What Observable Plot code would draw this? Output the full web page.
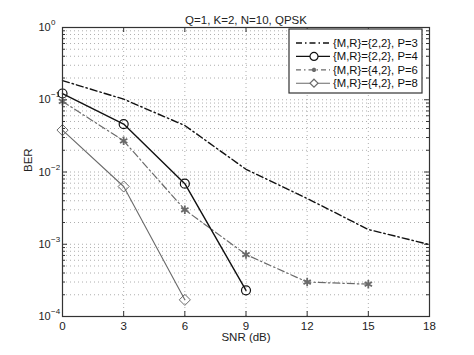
<!DOCTYPE html>
<html>
<head>
<meta charset="utf-8">
<script src="https://cdn.jsdelivr.net/npm/d3@7"></script>
<script src="https://cdn.jsdelivr.net/npm/@observablehq/plot@0.6"></script>
<style>
  html, body { margin: 0; padding: 0; background: #fff; }
  #chart { width: 474px; height: 355px; }
  svg { font-family: "Liberation Sans", Arial, sans-serif; }
</style>
</head>
<body>
<div id="chart"></div>
<script>
// ---- data ----
const title = "Q=1, K=2, N=10, QPSK";
const xLabel = "SNR (dB)";
const yLabel = "BER";
const seriesNames = ["{M,R}={2,2}, P=3", "{M,R}={2,2}, P=4", "{M,R}={4,2}, P=6", "{M,R}={4,2}, P=8"];

const snrP3 = [0, 3, 6, 9, 12, 15, 18];
const berP3 = [0.184, 0.102, 0.044, 0.0109, 0.0043, 0.0016, 0.00099];

const snrP4 = [0, 3, 6, 9];
const berP4 = [0.122, 0.046, 0.0069, 0.00023];

const snrP6 = [0, 3, 6, 9, 12, 15];
const berP6 = [0.095, 0.027, 0.0030, 0.00072, 0.00030, 0.00028];

const snrP8 = [0, 3, 6];
const berP8 = [0.038, 0.0063, 0.00017];

const xTicks = [0, 3, 6, 9, 12, 15, 18];
const yExponents = [0, -1, -2, -3, -4];

// ---- derived ----
const toRows = (xs, ys) => xs.map((x, i) => ({x, y: ys[i]}));
const p3 = toRows(snrP3, berP3);
const p4 = toRows(snrP4, berP4);
const p6 = toRows(snrP6, berP6);
const p8 = toRows(snrP8, berP8);

const yDecades = yExponents.map(e => Math.pow(10, e));
const yMinor = [];
for (const e of yExponents) {
  if (e === 0) continue;
  for (let m = 2; m <= 9; m++) yMinor.push(m * Math.pow(10, e));
}
const yGrid = yDecades.concat(yMinor).filter(v => v > 1e-4 && v < 1);
const xGrid = xTicks.filter(v => v > 0 && v < 18);

const W = 474, H = 355;
const mL = 62, mR = 45, mT = 27, mB = 39;
const pw = W - mL - mR, ph = H - mT - mB;

const frameColor = "#333";
const gridColor = "#9a9a9a";
const grayLine = "#6a6a6a";

const chart = Plot.plot({
  width: W,
  height: H,
  marginLeft: mL,
  marginRight: mR,
  marginTop: mT,
  marginBottom: mB,
  style: {fontFamily: '"Liberation Sans", Arial, sans-serif', fontSize: "11px", color: "#222"},
  x: {domain: [0, 18], label: null},
  y: {type: "log", domain: [1e-4, 1], axis: null},
  marks: [
    // grid
    Plot.ruleY(yGrid, {y: d => d, stroke: gridColor, strokeWidth: 0.8, strokeDasharray: "1,3"}),
    Plot.ruleX(xGrid, {x: d => d, stroke: gridColor, strokeWidth: 0.8, strokeDasharray: "1,3"}),
    // inward ticks
    Plot.tickX(xTicks, {x: d => d, insetTop: ph - 5, stroke: frameColor}),
    Plot.tickX(xTicks, {x: d => d, insetBottom: ph - 5, stroke: frameColor}),
    Plot.tickY(yDecades, {y: d => d, insetRight: pw - 5, stroke: frameColor}),
    Plot.tickY(yDecades, {y: d => d, insetLeft: pw - 5, stroke: frameColor}),
    Plot.tickY(yMinor, {y: d => d, insetRight: pw - 3, stroke: frameColor}),
    Plot.tickY(yMinor, {y: d => d, insetLeft: pw - 3, stroke: frameColor}),
    // x tick labels
    Plot.axisX({ticks: xTicks, tickSize: 0, tickPadding: 5, fontSize: 11.5, tickFormat: d => String(d), label: null}),
    // y tick labels (10 with superscript exponent)
    Plot.text(yDecades, {y: d => d, text: () => "10", frameAnchor: "left", textAnchor: "start", dx: -24, fontSize: 11}),
    Plot.text(yExponents, {y: e => Math.pow(10, e), text: e => e < 0 ? "\u2212" + (-e) : String(e), frameAnchor: "left", textAnchor: "start", dx: -11.5, dy: -5, fontSize: 8}),
    // labels
    Plot.text([title], {text: d => d, frameAnchor: "top", dy: -12, fontSize: 11.5}),
    Plot.text([xLabel], {text: d => d, frameAnchor: "bottom", dy: 24, fontSize: 11.5}),
    Plot.text([yLabel], {text: d => d, frameAnchor: "left", dx: -34, rotate: -90, fontSize: 11.5}),
    // series
    Plot.line(p3, {x: "x", y: "y", stroke: "#111", strokeWidth: 1.4, strokeDasharray: "7,3,1.5,3"}),
    Plot.line(p6, {x: "x", y: "y", stroke: grayLine, strokeWidth: 1.2, strokeDasharray: "7,3,1.5,3"}),
    Plot.dot(p6, {x: "x", y: "y", symbol: "asterisk", r: 4, stroke: grayLine, strokeWidth: 1.8}),
    Plot.line(p8, {x: "x", y: "y", stroke: grayLine, strokeWidth: 1.1}),
    Plot.dot(p8, {x: "x", y: "y", symbol: "diamond2", r: 5, stroke: grayLine, strokeWidth: 1, fill: "none"}),
    Plot.line(p4, {x: "x", y: "y", stroke: "#111", strokeWidth: 1.4}),
    Plot.dot(p4, {x: "x", y: "y", symbol: "circle", r: 4.5, stroke: "#111", strokeWidth: 1.2, fill: "none"}),
    Plot.frame({stroke: frameColor, strokeWidth: 1.2})
  ]
});

document.getElementById("chart").appendChild(chart);

// ---- legend (inside the axes, top-right) ----
const svg = d3.select(chart);
const lg = svg.append("g").attr("transform", "translate(289,29)").attr("text-anchor", "start");
lg.append("rect").attr("x", 0).attr("y", 0).attr("width", 133).attr("height", 64)
  .attr("fill", "#fff").attr("stroke", frameColor).attr("stroke-width", 1.2);
const legendStyles = [
  {stroke: "#111", width: 1.4, dash: "6,3,1.5,3", symbol: null},
  {stroke: "#111", width: 1.4, dash: null, symbol: d3.symbolCircle},
  {stroke: grayLine, width: 1.2, dash: "5,3,1.5,3", symbol: d3.symbolAsterisk},
  {stroke: grayLine, width: 1.1, dash: null, symbol: d3.symbolDiamond2}
];
const symR = [0, 4, 3.5, 4.5];
seriesNames.forEach((name, i) => {
  const s = legendStyles[i];
  const y = 14 + i * 13.4;
  const ln = lg.append("line").attr("x1", 7).attr("x2", 41).attr("y1", y).attr("y2", y)
    .attr("stroke", s.stroke).attr("stroke-width", s.width);
  if (s.dash) ln.attr("stroke-dasharray", s.dash);
  if (s.symbol) {
    const size = (s.symbol === d3.symbolCircle) ? Math.PI * symR[i] * symR[i] : symR[i] * symR[i] * (s.symbol === d3.symbolAsterisk ? 1 : 2);
    lg.append("path").attr("d", d3.symbol(s.symbol, size)())
      .attr("transform", `translate(25,${y})`)
      .attr("fill", s.symbol === d3.symbolCircle || s.symbol === d3.symbolDiamond2 ? "#fff" : "none")
      .attr("stroke", s.stroke).attr("stroke-width", s.symbol === d3.symbolAsterisk ? 1.8 : 1.2);
  }
  lg.append("text").attr("x", 44).attr("y", y).attr("dy", "0.35em").attr("text-anchor", "start")
    .attr("font-size", 11.3).attr("fill", "#111").text(name);
});
</script>
</body>
</html>
